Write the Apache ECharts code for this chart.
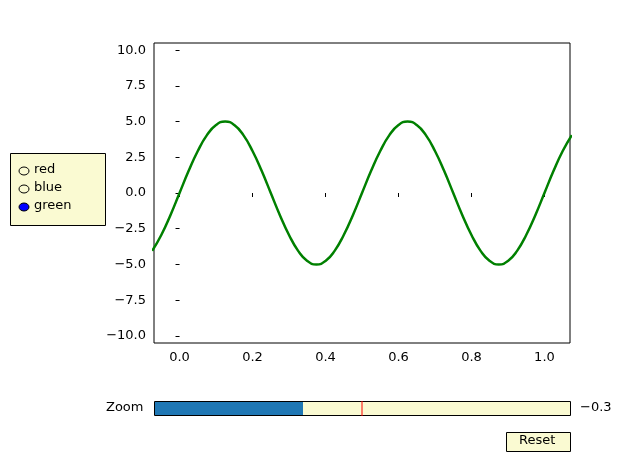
<!DOCTYPE html>
<html><head><meta charset="utf-8">
<script src="https://cdn.jsdelivr.net/npm/echarts@6/dist/echarts.min.js"></script>
<style>html,body{margin:0;background:#fff}#c{width:620px;height:458px}</style>
</head><body><div id="c"></div>
<script>
// green curve, every 0.025 on x
var xs = [];
for (var k = -3; k <= 43; k++) xs.push(+(k * 0.025).toFixed(3));
var ys = [-4.05, -2.94, -1.55,
  0, 1.55, 2.94, 4.05, 4.76, 5, 4.76, 4.05, 2.94, 1.55,
  0, -1.55, -2.94, -4.05, -4.76, -5, -4.76, -4.05, -2.94, -1.55,
  0, 1.55, 2.94, 4.05, 4.76, 5, 4.76, 4.05, 2.94, 1.55,
  0, -1.55, -2.94, -4.05, -4.76, -5, -4.76, -4.05, -2.94, -1.55,
  0, 1.55, 2.94, 4.05];
var xTicks = [0, 0.2, 0.4, 0.6, 0.8, 1.0];
var yTicks = [-10, -7.5, -5, -2.5, 0, 2.5, 5, 7.5, 10];
var radioLabels = ['red', 'blue', 'green'];
var selected = 'green';
var zoomValue = -0.28;

var pts = xs.map(function (x, i) { return [x, ys[i]]; });
var fmt = function (v) { var s = v.toFixed(1); return v < 0 ? '\u2212' + s.slice(1) : s; };
var font = {fontFamily: 'DejaVu Sans', fontSize: 13, color: '#000'};

var graphic = [
  {type: 'rect', shape: {x: 10.5, y: 153.5, width: 95, height: 72}, style: {fill: '#fafad2', stroke: '#000', lineWidth: 1}}
];
radioLabels.forEach(function (r, i) {
  var cy = 171 + i * 18;
  graphic.push({type: 'ellipse', shape: {cx: 24, cy: cy, rx: 5, ry: 4}, style: {fill: r === selected ? '#0000ff' : '#fafad2', stroke: '#000', lineWidth: 1}});
  graphic.push({type: 'text', left: 34, top: cy - 8, style: {text: r, font: '13px DejaVu Sans', fill: '#000'}});
});
graphic.push(
  {type: 'text', left: 106, top: 401, style: {text: 'Zoom', font: '13px DejaVu Sans', fill: '#000'}},
  {type: 'rect', shape: {x: 154.5, y: 401.5, width: 416, height: 14}, style: {fill: '#fafad2', stroke: '#000', lineWidth: 1}},
  {type: 'rect', shape: {x: 155, y: 402, width: 148, height: 13}, style: {fill: '#1f77b4'}},
  {type: 'line', shape: {x1: 362, y1: 401, x2: 362, y2: 416}, style: {stroke: '#ff0000', lineWidth: 1}},
  {type: 'text', left: 580, top: 401, style: {text: fmt(zoomValue), font: '13px DejaVu Sans', fill: '#000'}},
  {type: 'rect', shape: {x: 506.5, y: 432.5, width: 64, height: 19}, style: {fill: '#fafad2', stroke: '#000', lineWidth: 1}},
  {type: 'text', left: 519, top: 434, style: {text: 'Reset', font: '13px DejaVu Sans', fill: '#000'}}
);

var chart = echarts.init(document.getElementById('c'));
chart.setOption({
  animation: false,
  grid: {left: 154, top: 43, width: 416, height: 300, show: true, borderColor: '#000', borderWidth: 1},
  xAxis: {type: 'value', min: -0.07, max: 1.07,
    axisLine: {show: false}, splitLine: {show: false},
    axisTick: {show: true, length: 4, lineStyle: {color: '#000'}, customValues: xTicks},
    axisLabel: Object.assign({customValues: xTicks, formatter: fmt, margin: 8}, font)},
  yAxis: {type: 'value', min: -10.5, max: 10.5,
    axisLine: {show: false}, splitLine: {show: false},
    axisTick: {show: true, length: 4, lineStyle: {color: '#000'}, customValues: yTicks},
    axisLabel: Object.assign({customValues: yTicks, formatter: fmt, margin: 8}, font)},
  series: [{type: 'line', data: pts, smooth: true, symbol: 'none', lineStyle: {color: '#008000', width: 2.5}}],
  graphic: graphic
});
</script></body></html>
